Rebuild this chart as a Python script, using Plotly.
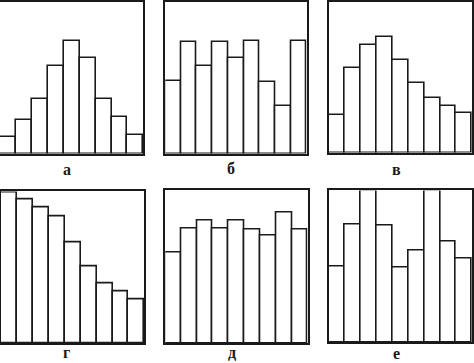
import plotly.graph_objects as go

W, H = 474, 363

# Bar heights (in units of pixels of a ~152 px tall frame)
bins = list(range(1, 10))
vals_a = [17, 34, 55, 88, 113, 96, 55, 37, 19]
vals_b = [73, 112, 88, 112, 96, 113, 72, 48, 113]
vals_v = [38, 85, 109, 117, 93, 70, 55, 47, 40]
vals_g = [151, 144, 136, 127, 101, 77, 60, 52, 44]
vals_d = [90, 114, 122, 114, 122, 113, 107, 130, 113]
vals_e = [76, 118, 152, 117, 75, 92, 152, 101, 84]
labels = ["а", "б", "в", "г", "д", "е"]
frame_top = 152

series = [vals_a, vals_b, vals_v, vals_g, vals_d, vals_e]
# panel boxes in pixels: (x0, x1, ytop, ybottom)
boxes = [
    (0, 144, 1, 153),
    (166, 308, 1, 153),
    (330, 474, 1, 152),
    (1, 145, 191, 343),
    (166, 309, 190, 343),
    (330, 474, 190, 342),
]
label_pos = [(67, 169), (232, 168), (398, 169), (67, 352), (233, 352), (398, 353)]

fig = go.Figure()
for i, (vals, box) in enumerate(zip(series, boxes)):
    n = i + 1
    xa = "x" if n == 1 else f"x{n}"
    ya = "y" if n == 1 else f"y{n}"
    fig.add_trace(go.Bar(
        x=bins, y=vals, width=1,
        marker=dict(color="white", line=dict(color="#1a1a1a", width=1.6)),
        xaxis=xa, yaxis=ya, showlegend=False, hoverinfo="skip",
    ))
    x0, x1, yt, yb = box
    ax = dict(domain=[x0 / W, x1 / W], range=[0.5, 9.5], showgrid=False,
              zeroline=False, showticklabels=False, ticks="",
              showline=True, mirror=True, linecolor="#1a1a1a", linewidth=1.6,
              anchor=ya)
    ay = dict(domain=[1 - yb / H, 1 - yt / H], range=[0, frame_top], showgrid=False,
              zeroline=False, showticklabels=False, ticks="",
              showline=True, mirror=True, linecolor="#1a1a1a", linewidth=1.6,
              anchor=xa)
    key = "" if n == 1 else str(n)
    fig.layout["xaxis" + key] = ax
    fig.layout["yaxis" + key] = ay

for lab, (px, py) in zip(labels, label_pos):
    fig.add_annotation(text="<b>" + lab + "</b>", x=px / W, y=1 - py / H,
                       xref="paper", yref="paper", showarrow=False,
                       font=dict(family="Liberation Serif", size=16, color="#1a1a1a"),
                       xanchor="center", yanchor="middle")

fig.update_layout(width=W, height=H, margin=dict(l=0, r=0, t=0, b=0),
                  paper_bgcolor="white", plot_bgcolor="white", bargap=0)
fig.write_html("out.html")
